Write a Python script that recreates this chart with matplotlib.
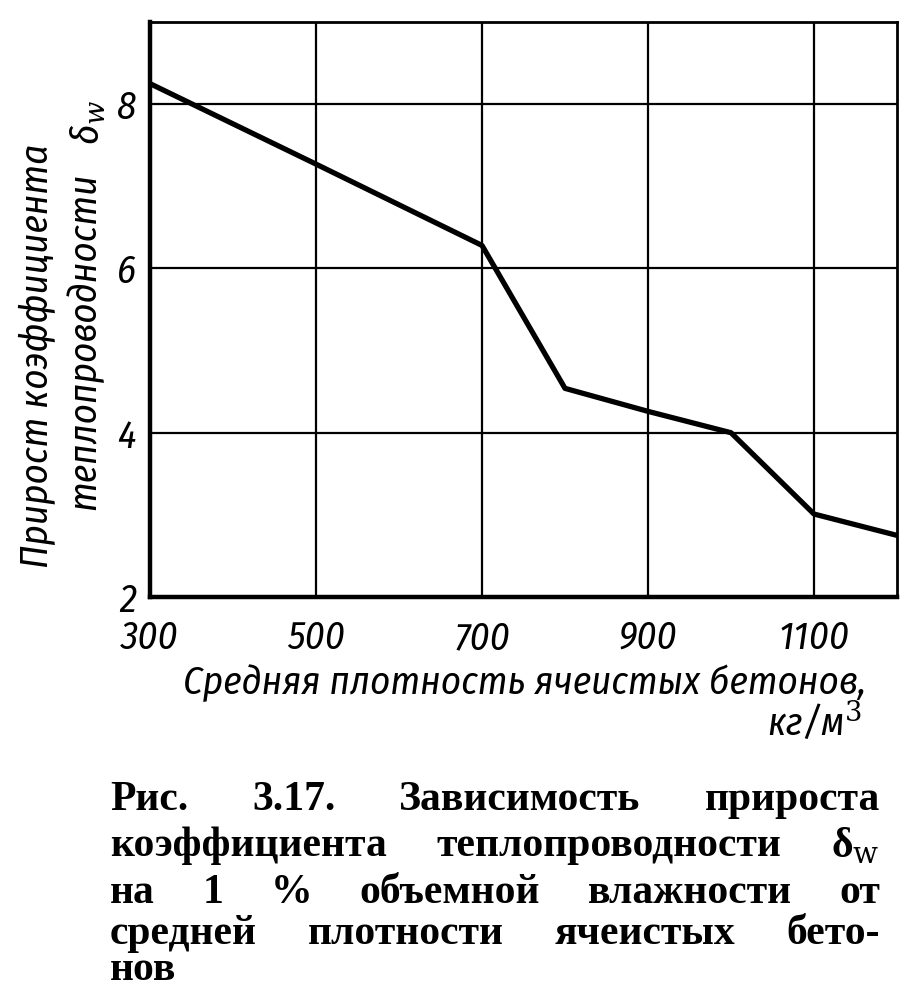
import matplotlib
matplotlib.use("Agg")
from matplotlib import pyplot as plt
import matplotlib.font_manager as fm

# values
density = [300, 500, 700, 800, 900, 1000, 1100, 1200]
delta_w = [8.25, 7.27, 6.28, 4.54, 4.26, 4.0, 3.01, 2.75]
xticks = [300, 500, 700, 900, 1100]
yticks = [2, 4, 6, 8]

caption = [
    "Рис. 3.17. Зависимость прироста",
    "коэффициента теплопроводности δ$_\\mathrm{w}$",
    "на 1 % объемной влажности от",
    "средней плотности ячеистых бето-",
    "нов",
]

W, H = 920, 996
plt.rcParams['mathtext.fontset'] = 'dejavuserif'

# look for a narrow sans for the drafting-style labels
narrow = None
cands = [f for f in fm.fontManager.ttflist
         if ("Narrow" in f.name or f.stretch in ("condensed", "semi-condensed"))
         and f.style == "italic" and "Sans" in f.name]
if cands:
    narrow = cands[0]
if narrow is not None:
    hand = dict(family=[narrow.name, 'DejaVu Sans'], stretch=narrow.stretch, style="italic")
    fs = 28
else:
    hand = dict(family=['DejaVu Sans'], style="italic")
    fs = 24

fig = plt.figure(figsize=(W / 100, H / 100), dpi=100)
ax = fig.add_axes([150 / W, 1 - 597 / H, 747 / W, 575 / H])

ax.plot(density, delta_w, color="k", lw=3.8, solid_joinstyle="round", zorder=3)
ax.set_xlim(300, 1200)
ax.set_ylim(2, 9)
ax.set_xticks(xticks)
ax.set_yticks(yticks)
ax.grid(True, color="k", lw=1.6)
ax.tick_params(length=0, labelsize=fs)
ax.tick_params(axis="x", pad=16)
ax.tick_params(axis="y", pad=10)
for lab in ax.get_xticklabels() + ax.get_yticklabels():
    lab.set_fontproperties(fm.FontProperties(size=fs, **hand))
for s in ["left", "bottom"]:
    ax.spines[s].set_linewidth(3.2)
for s in ["top", "right"]:
    ax.spines[s].set_linewidth(2.0)

def px(x, y):
    return x / W, 1 - y / H

# y-axis label, two rotated lines
fig.text(*px(37, 356), "Прирост коэффициента", rotation=90, ha="center", va="center",
         fontsize=fs, **hand)
fig.text(*px(84, 341), "теплопроводности", rotation=90, ha="center", va="center",
         fontsize=fs, **hand)
fig.text(*px(88, 122), "δ$_w$", rotation=90, ha="center", va="center",
         fontsize=fs, **hand)

# x-axis label
fig.text(*px(866, 683), "Средняя плотность ячеистых бетонов,", ha="right", va="center",
         fontsize=fs, **hand)
fig.text(*px(862, 722), "кг/м$^3$", ha="right", va="center",
         fontsize=fs, **hand)

# justified caption
r = fig.canvas.get_renderer()
x0, x1 = 110, 880
ys = [800, 846, 893, 934, 970]
for i, line in enumerate(caption):
    words = line.split()
    texts = [fig.text(0, 1 - ys[i] / H, w, fontsize=30, weight="bold",
                      family="Liberation Serif", va="center") for w in words]
    widths = [t.get_window_extent(r).width for t in texts]
    if len(words) > 1:
        gap = (x1 - x0 - sum(widths)) / (len(words) - 1)
    else:
        gap = 0
    x = x0
    for t, w in zip(texts, widths):
        t.set_x(x / W)
        x += w + gap

fig.savefig("out.png", dpi=100, facecolor="white")
